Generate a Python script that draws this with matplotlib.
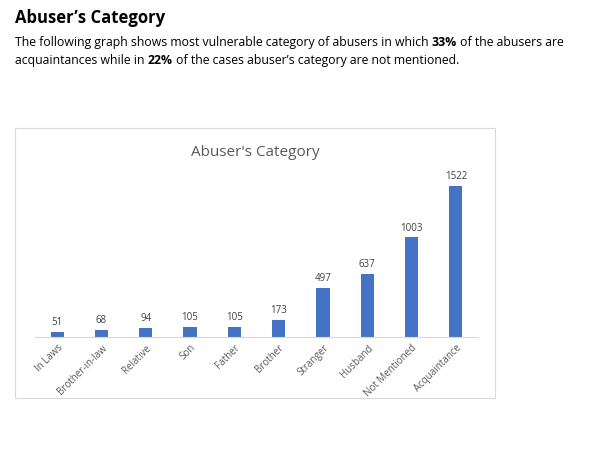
import matplotlib
matplotlib.use("Agg")
import matplotlib.pyplot as plt
from matplotlib.patches import Rectangle

categories = ["In Laws", "Brother-in-law", "Relative", "Son", "Father", "Brother",
              "Stranger", "Husband", "Not Mentioned", "Acquaintance"]
values = [51, 68, 94, 105, 105, 173, 497, 637, 1003, 1522]

plt.rcParams['font.family'] = ['Open Sans', 'DejaVu Sans']
W, H = 600, 462
fig = plt.figure(figsize=(6, 4.62), dpi=100)
fig.patch.set_facecolor('white')

fig.text(15/W, 1-18/H, "Abuser\u2019s Category", fontsize=12, fontweight='bold', va='center', ha='left')

def rich_line(y, parts):
    fig.canvas.draw()
    r = fig.canvas.get_renderer()
    x = 15/W
    for s, b in parts:
        t = fig.text(x, 1-y/H, s, fontsize=8.8, fontweight='bold' if b else 'normal', va='baseline', ha='left')
        bb = t.get_window_extent(renderer=r)
        x += bb.width/W

rich_line(46, [("The following graph shows most vulnerable category of abusers in which ", False),
               ("33%", True), (" of the abusers are", False)])
rich_line(64, [("acquaintances while in ", False), ("22%", True),
               (" of the cases abuser\u2019s category are not mentioned.", False)])

fig.patches.append(Rectangle((15/W, 1-398/H), 480/W, 270/H, transform=fig.transFigure,
                             facecolor='white', edgecolor='#d9d9d9', lw=0.8, zorder=-5))

fig.text(255/W, 1-152/H, "Abuser's Category", fontsize=11, color='#595959', ha='center', va='center')

ax = fig.add_axes([35/W, 1-337/H, 443/W, 177/H])
x = range(len(categories))
ax.bar(x, values, width=0.3, color='#4472c4')
ax.set_xlim(-0.5, len(categories)-0.5)
ax.set_ylim(0, 1522*177/151)
for i, v in zip(x, values):
    ax.text(i, v + 40, str(v), ha='center', va='bottom', fontsize=7, color='#404040')
ax.set_xticks(list(x))
ax.set_xticklabels(categories, rotation=45, ha='right', rotation_mode='anchor', fontsize=7, color='#595959')
ax.tick_params(length=0, pad=4)
ax.set_yticks([])
for s in ['left', 'right', 'top']:
    ax.spines[s].set_visible(False)
ax.spines['bottom'].set_color('#d9d9d9')
ax.patch.set_alpha(0)

fig.savefig("out.png", dpi=100)
